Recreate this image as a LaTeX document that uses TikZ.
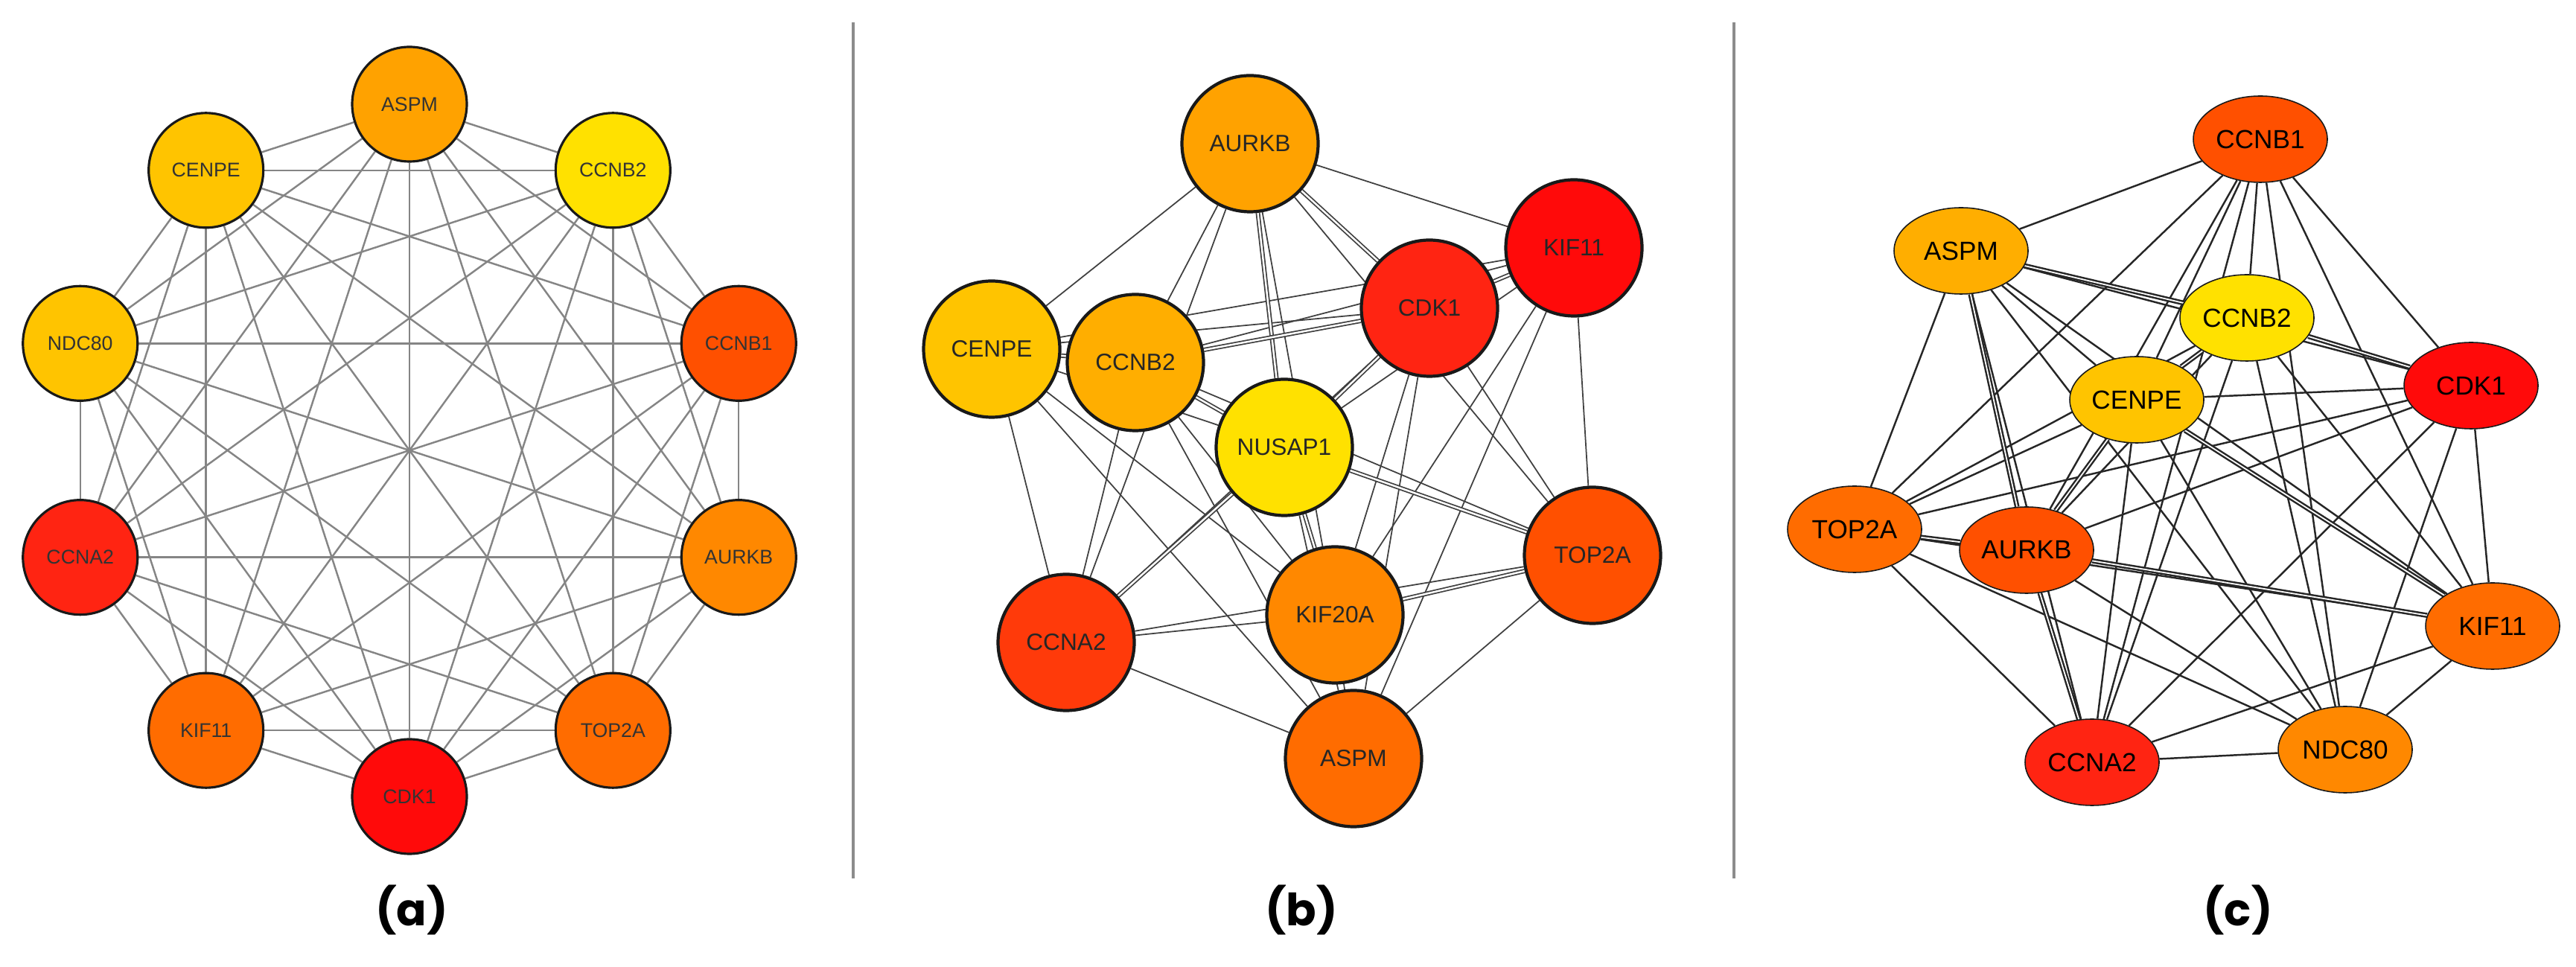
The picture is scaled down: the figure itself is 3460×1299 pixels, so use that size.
\documentclass[tikz,border=0pt]{standalone}
\usepackage{fontspec}
\setmainfont{Liberation Sans}
\newfontfamily\panelfont{Poppins}
\usetikzlibrary{shapes.geometric,backgrounds}

% node fills
\definecolor{yelA}{HTML}{FFE100}
\definecolor{goldA}{HTML}{FFC400}
\definecolor{ambA}{HTML}{FFAE00}
\definecolor{orgA}{HTML}{FFA200}
\definecolor{orgB}{HTML}{FF8800}
\definecolor{orgC}{HTML}{FF6C00}
\definecolor{orgD}{HTML}{FF5000}
\definecolor{redA}{HTML}{FF3A0A}
\definecolor{redB}{HTML}{FF2412}
\definecolor{redC}{HTML}{FF0A0A}

\tikzset{
  anode/.style={circle, draw=black!90, line width=0.9pt, minimum size=15.4mm, inner sep=0pt,
    font=\fontsize{7.6}{9}\selectfont, text=black!80},
  bnode/.style={circle, draw=black!90, line width=1.2pt, minimum size=18.3mm, inner sep=0pt,
    font=\fontsize{9}{11}\selectfont, text=black!85},
  cnode/.style={ellipse, draw=black!90, line width=0.45pt, minimum width=18mm, minimum height=11.6mm,
    inner sep=0pt, font=\fontsize{10}{12}\selectfont},
  aedge/.style={draw=black!48, line width=0.7pt},
  bedge/.style={draw=black!75, line width=0.5pt},
  bpair/.style={bedge, double=white, double distance=0.7pt},
  cedge/.style={draw=black!85, line width=0.7pt},
  cpair/.style={cedge, double=white, double distance=0.5pt},
  sepline/.style={draw=black!45, line width=1pt},
  panel/.style={font=\panelfont\bfseries\fontsize{17}{20}\selectfont}
}

\begin{document}
\begin{tikzpicture}[x=0.1mm, y=-0.1mm]
  \useasboundingbox (0,0) rectangle (3460,1299);

  % (a) circular layout, every pair linked
  \foreach \name/\col [count=\k] in {ASPM/orgA, CCNB2/yelA, CCNB1/orgD, AURKB/orgB, TOP2A/orgC,
      CDK1/redC, KIF11/orgC, CCNA2/redB, NDC80/goldA, CENPE/goldA} {
    \node [anode, fill=\col] (a\k) at ({550+465*cos(126-36*\k)},{605-465*sin(126-36*\k)}) {\name};
  }
  \begin{scope}[on background layer]
    \foreach \i in {1,...,10} {
      \foreach \j in {\i,...,10} {
        \ifnum\j>\i \draw [aedge] (a\i) -- (a\j); \fi
      }
    }
  \end{scope}

  % (b)
  \node [bnode, fill=orgA] (bAURKB) at (1679,193) {AURKB};
  \node [bnode, fill=redC] (bKIF11) at (2114,333) {KIF11};
  \node [bnode, fill=redB] (bCDK1) at (1920,414) {CDK1};
  \node [bnode, fill=goldA] (bCENPE) at (1332,469) {CENPE};
  \node [bnode, fill=ambA] (bCCNB2) at (1525,487) {CCNB2};
  \node [bnode, fill=yelA] (bNUSAP1) at (1725,601) {NUSAP1};
  \node [bnode, fill=orgD] (bTOP2A) at (2139,746) {TOP2A};
  \node [bnode, fill=orgB] (bKIF20A) at (1793,826) {KIF20A};
  \node [bnode, fill=redA] (bCCNA2) at (1432,863) {CCNA2};
  \node [bnode, fill=orgC] (bASPM) at (1818,1019) {ASPM};
  \begin{scope}[on background layer]
    \foreach \u/\v in {AURKB/KIF11, AURKB/CENPE, AURKB/CCNB2, AURKB/CCNA2, AURKB/KIF20A,
        AURKB/TOP2A, CENPE/CDK1, CENPE/KIF11, CCNB2/KIF11, CENPE/CCNA2, CENPE/KIF20A,
        CENPE/ASPM, CENPE/NUSAP1, CCNB2/TOP2A, CCNB2/KIF20A, CCNB2/ASPM, CCNB2/CCNA2,
        CDK1/CCNA2, KIF11/NUSAP1, CDK1/KIF20A, CDK1/ASPM, CDK1/TOP2A, KIF11/TOP2A,
        KIF11/KIF20A, KIF11/ASPM, TOP2A/ASPM, TOP2A/CCNA2, KIF20A/CCNA2, CCNA2/ASPM,
        KIF20A/ASPM, NUSAP1/ASPM}
      \draw [bedge] (b\u) -- (b\v);
    \foreach \u/\v in {AURKB/NUSAP1, AURKB/CDK1, KIF11/CDK1, CCNB2/CDK1, CENPE/CCNB2,
        CCNB2/NUSAP1, NUSAP1/TOP2A, NUSAP1/CCNA2, CDK1/NUSAP1, TOP2A/KIF20A, NUSAP1/KIF20A}
      \draw [bpair] (b\u) -- (b\v);
  \end{scope}

  % (c)
  \node [cnode, fill=orgD] (cCCNB1) at (3036,187) {CCNB1};
  \node [cnode, fill=ambA] (cASPM) at (2634,337) {ASPM};
  \node [cnode, fill=yelA] (cCCNB2) at (3018,427) {CCNB2};
  \node [cnode, fill=redC] (cCDK1) at (3319,518) {CDK1};
  \node [cnode, fill=goldA] (cCENPE) at (2870,537) {CENPE};
  \node [cnode, fill=orgC] (cTOP2A) at (2491,711) {TOP2A};
  \node [cnode, fill=orgD] (cAURKB) at (2722,739) {AURKB};
  \node [cnode, fill=orgC] (cKIF11) at (3348,841) {KIF11};
  \node [cnode, fill=redB] (cCCNA2) at (2810,1024) {CCNA2};
  \node [cnode, fill=orgB] (cNDC80) at (3150,1007) {NDC80};
  \begin{scope}[on background layer]
    \foreach \u/\v in {CCNB1/ASPM, CCNB1/TOP2A, CCNB1/CENPE, CCNB1/AURKB, CCNB1/CCNB2,
        CCNB1/NDC80, CCNB1/CCNA2, CCNB1/CDK1, CCNB1/KIF11, ASPM/CDK1, ASPM/CENPE, ASPM/KIF11,
        ASPM/TOP2A, ASPM/NDC80, ASPM/CCNA2, CCNB2/TOP2A, CCNB2/AURKB, CCNB2/CCNA2,
        CCNB2/NDC80, CCNB2/KIF11, CDK1/CENPE, CDK1/TOP2A, CDK1/AURKB, CDK1/CCNA2,
        CDK1/NDC80, CDK1/KIF11, CENPE/TOP2A, CENPE/CCNA2, CENPE/NDC80, TOP2A/KIF11,
        TOP2A/CCNA2, TOP2A/NDC80, AURKB/NDC80, KIF11/CCNA2, KIF11/NDC80, CCNA2/NDC80}
      \draw [cedge] (c\u) -- (c\v);
    \foreach \u/\v in {ASPM/CCNB2, ASPM/AURKB, CCNB2/CDK1, CCNB2/CENPE, CENPE/AURKB,
        CENPE/KIF11, TOP2A/AURKB, AURKB/KIF11, AURKB/CCNA2}
      \draw [cpair] (c\u) -- (c\v);
  \end{scope}

  % separators and panel letters
  \coordinate (s1top) at (1146,30);
  \coordinate (s1bot) at (1146,1180);
  \coordinate (s2top) at (2329,30);
  \coordinate (s2bot) at (2329,1180);
  \draw [sepline] (s1top) -- (s1bot);
  \draw [sepline] (s2top) -- (s2bot);
  \node [panel] (lblA) at (553,1222) {(a)};
  \node [panel] (lblB) at (1748,1222) {(b)};
  \node [panel] (lblC) at (3006,1222) {(c)};
\end{tikzpicture}
\end{document}
